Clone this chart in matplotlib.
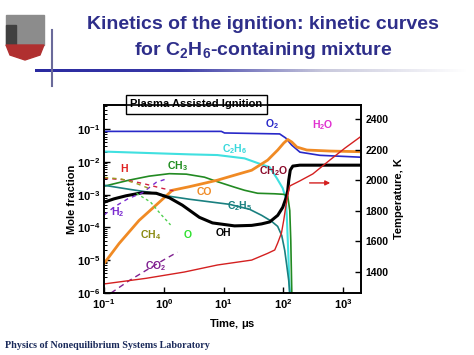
import numpy as np
import matplotlib
matplotlib.use("Agg")
import matplotlib.pyplot as plt
from matplotlib.colors import LinearSegmentedColormap
from matplotlib.patches import Rectangle, Polygon

plt.rcParams['font.family'] = ['Liberation Sans', 'DejaVu Sans']
plt.rcParams['mathtext.fontset'] = 'custom'
plt.rcParams['mathtext.rm'] = 'Liberation Sans:bold'
plt.rcParams['mathtext.bf'] = 'Liberation Sans:bold'
plt.rcParams['mathtext.it'] = 'Liberation Sans:bold'
plt.rcParams['mathtext.default'] = 'bf'

# ---------------- data ----------------
t_o2 = [0.1, 9.2, 10.4, 87, 110, 138, 190, 410, 2000]
y_o2 = [0.086, 0.086, 0.077, 0.072, 0.054, 0.033, 0.020, 0.016, 0.014]

t_c2h6 = [0.1, 2.7, 7.9, 22.5, 43.5, 59, 78, 98, 110, 114.5, 119, 123.5, 128.5]
y_c2h6 = [0.0208, 0.0171, 0.0163, 0.0129, 0.0084, 0.0070, 0.0032, 0.00158,
          7.8e-4, 2.3e-4, 4e-5, 6.9e-6, 1e-6]

t_ch3 = [0.1, 0.263, 0.57, 1.24, 2.39, 4.8, 7.93, 15.3, 22.5, 37.3, 72, 102,
         119, 128.5, 133.6, 139]
y_ch3 = [1.82e-3, 2.79e-3, 3.7e-3, 4.4e-3, 4.25e-3, 3.44e-3, 2.5e-3, 1.7e-3,
         1.37e-3, 1.11e-3, 1.07e-3, 1.03e-3, 9e-4, 3.3e-4, 4e-5, 1e-6]

t_c2h5 = [0.1, 0.263, 0.57, 1.24, 2.68, 5.8, 12.6, 27.3, 43.5, 63.9, 80.6,
          94.3, 105.8, 114.5, 123.5, 128.5]
y_c2h5 = [1.95e-3, 1.47e-3, 1.19e-3, 9.0e-4, 7.3e-4, 6.1e-4, 5.1e-4, 3.6e-4,
          2.35e-4, 1.54e-4, 1.08e-4, 5.7e-5, 2.0e-5, 6.9e-6, 2.4e-6, 1e-6]

t_co = [0.1, 0.179, 0.387, 0.84, 1.39, 2.68, 4.8, 7.93, 15.3, 29.6, 54.8, 80.8,
        102, 119, 139, 169, 248, 605, 2000]
y_co = [7.9e-6, 3.25e-5, 1.65e-4, 5.9e-4, 1.37e-3, 1.76e-3, 2.25e-3, 2.79e-3,
        3.96e-3, 5.6e-3, 0.0114, 0.0232, 0.038, 0.0487, 0.0407, 0.0286, 0.0232,
        0.0216, 0.0206]

t_oh = [0.1, 0.147, 0.234, 0.435, 0.749, 1.24, 2.05, 3.95, 6.54, 15.3, 29.6,
        43.5, 59.3, 80.8, 98.1, 112.3, 119, 123.6, 131, 144.5, 189, 2000]
y_oh = [5.9e-4, 7.5e-4, 9.3e-4, 1.15e-3, 1.11e-3, 8.1e-4, 4.8e-4, 2.04e-4,
        1.38e-4, 1.12e-4, 1.16e-4, 1.29e-4, 1.48e-4, 2.35e-4, 4.14e-4, 8.4e-4,
        1.37e-3, 2.8e-3, 5.65e-3, 7.5e-3, 8.0e-3, 8.0e-3]

t_temp = [0.1, 0.508, 2.21, 7.93, 29.6, 54.8, 72, 80.8, 93.3, 102, 110, 120.5,
          128.5, 189, 313, 605, 1082, 2000]
temp = [1322, 1359, 1400, 1446, 1478, 1522, 1544, 1590, 1655, 1740, 1825, 1914,
        1962, 1995, 2041, 2132, 2210, 2286]

# dashed (short-time) species
t_h = [0.1, 0.25, 0.5, 0.9, 1.5]
y_h = [3.2e-3, 2.8e-3, 2.1e-3, 1.6e-3, 1.3e-3]
t_h2 = [0.1, 0.15, 0.25, 0.44, 0.75, 1.2]
y_h2 = [2.4e-4, 4.3e-4, 7.5e-4, 1.15e-3, 2.4e-3, 3.2e-3]
t_ch4 = [0.1, 0.2, 0.35, 0.6]
y_ch4 = [3.4e-3, 3.0e-3, 2.2e-3, 1.5e-3]
t_o = [0.35, 0.6, 0.9, 1.3]
y_o = [1.1e-3, 6e-4, 2.5e-4, 1.2e-4]
t_co2 = [0.131, 0.263, 0.57, 1.02, 1.69]
y_co2 = [1e-6, 2.38e-6, 5.6e-6, 1.05e-5, 1.76e-5]

x_ticks = [0.1, 1, 10, 100, 1000]
x_ticklabels = [r'$10^{-1}$', r'$10^{0}$', r'$10^{1}$', r'$10^{2}$', r'$10^{3}$']
y_ticks = [1e-6, 1e-5, 1e-4, 1e-3, 1e-2, 1e-1]
y_ticklabels = [r'$10^{-6}$', r'$10^{-5}$', r'$10^{-4}$', r'$10^{-3}$',
                r'$10^{-2}$', r'$10^{-1}$']
t_ticks = [1400, 1600, 1800, 2000, 2200, 2400]

# species labels: (text, t, y, colour)
labels = [
    (r'O$_2$', 64, 0.146, '#2828c8'),
    (r'H$_2$O', 461, 0.135, '#e030d0'),
    (r'C$_2$H$_6$', 15.3, 0.0247, '#38d8dc'),
    ('H', 0.217, 5.97e-3, '#e02020'),
    (r'CH$_3$', 1.69, 7.6e-3, '#1e8c1e'),
    ('CO', 4.8, 1.22e-3, '#f08a24'),
    (r'CH$_2$O', 69, 5.37e-3, '#8a0a2a'),
    (r'C$_2$H$_5$', 18.6, 4.4e-4, '#1a8080'),
    (r'H$_2$', 0.167, 2.96e-4, '#7a2ad0'),
    ('OH', 10, 6.9e-5, 'black'),
    (r'CH$_4$', 0.61, 5.7e-5, '#8a8a10'),
    ('O', 2.48, 5.7e-5, '#30e030'),
    (r'CO$_2$', 0.74, 6.4e-6, '#802090'),
]

# ---------------- figure ----------------
fig = plt.figure(figsize=(4.74, 3.55), dpi=100)

# header decorations
fig.text(0.555, 0.930, 'Kinetics of the ignition: kinetic curves', ha='center',
         va='center', fontsize=14, fontweight='bold', color='#2e2e8a')
fig.text(0.555, 0.859, r'for C$_2$H$_6$-containing mixture', ha='center',
         va='center', fontsize=14, fontweight='bold', color='#2e2e8a')

gax = fig.add_axes([35/474, (355-72)/355, (467-35)/474, 3.5/355])
cmap = LinearSegmentedColormap.from_list('g', ['#2a2aa0', '#3a3aa8', '#c8c8dc', '#ffffff'])
gax.imshow(np.linspace(0, 1, 256)[None, :], aspect='auto', cmap=cmap)
gax.axis('off')
fig.add_artist(plt.Line2D([52/474, 52/474], [1-30/355, 1-86/355], color='#6a6a9a', lw=1.5))

# simple logo
fig.add_artist(Rectangle((6/474, 1-45/355), 38/474, 30/355, color='#8c8c8c'))
fig.add_artist(Rectangle((6/474, 1-45/355), 10/474, 20/355, color='#404040'))
fig.add_artist(Polygon([(6/474, 1-45/355), (44/474, 1-45/355), (40/474, 1-55/355),
                        (25/474, 1-60/355), (10/474, 1-55/355)], closed=True,
                       color='#b03030'))

fig.text(5/474, 1-346/355, 'Physics of Nonequilibrium Systems Laboratory',
         family='Liberation Serif', fontweight='bold', fontsize=7.3,
         color='#1a2a5a', ha='left', va='center')

ax = fig.add_axes([104/474, (355-293)/355, (361-104)/474, (293-105)/355])
ax.set_xscale('log')
ax.set_yscale('log')
ax.set_xlim(0.1, 2000)
ax.set_ylim(1e-6, 0.55)

ax.plot(t_o2, y_o2, color='#2828c8', lw=1.2)
ax.plot(t_c2h6, y_c2h6, color='#40e0e0', lw=1.5)
ax.plot(t_ch3, y_ch3, color='#228a22', lw=1.2)
ax.plot(t_c2h5, y_c2h5, color='#1a8080', lw=1.2)
ax.plot(t_co, y_co, color='#f08a24', lw=2.0)
ax.plot(t_oh, y_oh, color='black', lw=2.2)
ax.plot(t_h, y_h, color='#d02040', lw=1.0, ls=(0, (3, 3)))
ax.plot(t_h2, y_h2, color='#7a2ad0', lw=1.0, ls=(0, (3, 3)))
ax.plot(t_ch4, y_ch4, color='#9a9a20', lw=1.0, ls=(0, (3, 3)))
ax.plot(t_o, y_o, color='#50d050', lw=1.0, ls=(0, (2, 2)))
ax.plot(t_co2, y_co2, color='#802090', lw=1.0, ls=(0, (4, 3)))

for txt, tx, ty, c in labels:
    ax.text(tx, ty, txt, color=c, fontsize=7.5, fontweight='bold',
            ha='center', va='center')

ax.set_xticks(x_ticks)
ax.set_xticklabels(x_ticklabels, fontsize=8)
ax.set_yticks(y_ticks)
ax.set_yticklabels(y_ticklabels, fontsize=8)
ax.xaxis.set_minor_locator(matplotlib.ticker.NullLocator())
ax.yaxis.set_minor_locator(matplotlib.ticker.LogLocator(base=10, subs=np.arange(2, 10)))
ax.yaxis.set_minor_formatter(matplotlib.ticker.NullFormatter())
ax.tick_params(which='major', direction='in', length=4, width=1, pad=3)
ax.tick_params(which='minor', direction='in', length=2, width=0.7)
ax.tick_params(axis='y', which='both', right=False)
for s in ax.spines.values():
    s.set_linewidth(1.2)
ax.set_xlabel(r'Time, $\mathbf{\mu}$s', fontsize=8, fontweight='bold', labelpad=4)
ax.set_ylabel('Mole fraction', fontsize=8, fontweight='bold', labelpad=0)

ax2 = ax.twinx()
ax2.set_ylim(1263, 2491)
ax2.plot(t_temp, temp, color='#d42020', lw=1.0)
ax2.annotate('', xy=(680, 1982), xytext=(248, 1982),
             arrowprops=dict(arrowstyle='-|>', color='#d42020', lw=1.0,
                             mutation_scale=7))
ax2.set_yticks(t_ticks)
ax2.set_yticklabels([str(v) for v in t_ticks], fontsize=7.5, fontweight='bold')
ax2.tick_params(direction='in', length=4, width=1, pad=3)
ax2.set_ylabel('Temperature, K', fontsize=8, fontweight='bold', labelpad=4)
for s in ax2.spines.values():
    s.set_linewidth(1.2)

ax.text(0.36, 1.005, 'Plasma Assisted Ignition', transform=ax.transAxes,
        ha='center', va='center', fontsize=8, fontweight='bold', zorder=10,
        bbox=dict(boxstyle='square,pad=0.4', fc='white', ec='black', lw=1.0))

fig.savefig('out.png', dpi=100)
